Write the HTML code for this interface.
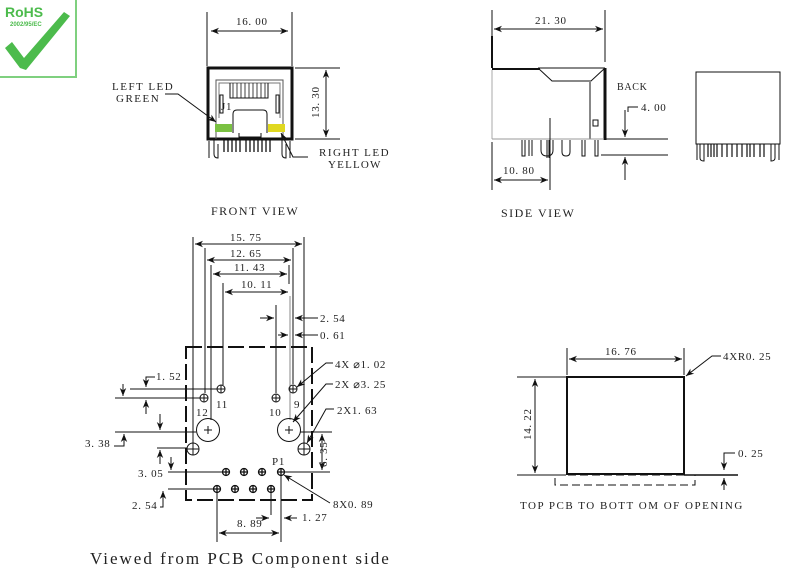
<!DOCTYPE html>
<html><head><meta charset="utf-8"><style>
html,body{margin:0;padding:0;background:#fff;}
svg{display:block;}
text{font-family:"Liberation Serif",serif;font-size:11px;fill:#222;letter-spacing:0.7px;}
</style></head><body>
<svg width="804" height="570" viewBox="0 0 804 570" xmlns="http://www.w3.org/2000/svg">
<defs>
<marker id="a" viewBox="0 0 10 10" refX="10" refY="5" markerWidth="8" markerHeight="8" orient="auto-start-reverse" markerUnits="userSpaceOnUse"><path d="M0,1 L10,5 L0,9 L3,5 Z" fill="#111"/></marker>
</defs>
<!-- RoHS -->
<rect x="0" y="0" width="76" height="77" fill="#fff"/>
<line x1="76" y1="0" x2="76" y2="77" stroke="#7fd07f" stroke-width="2"/>
<line x1="0" y1="77" x2="77" y2="77" stroke="#7fd07f" stroke-width="2"/>
<text x="5" y="17" style="font-family:'Liberation Sans',sans-serif;font-weight:bold;font-size:14px;fill:#4cbb4c;letter-spacing:0">RoHS</text>
<text x="10" y="26" style="font-family:'Liberation Sans',sans-serif;font-weight:bold;font-size:6px;fill:#4cbb4c;letter-spacing:0">2002/95/EC</text>
<polygon points="5,48 12,42 24,58 64,12 70,16 26,70 20,68" fill="#4cbb4c"/>

<g stroke="#111" fill="none" stroke-width="1">
<!-- FRONT VIEW -->
<line x1="207" y1="12" x2="207" y2="66"/><line x1="292" y1="12" x2="292" y2="66"/>
<line x1="211" y1="31" x2="288" y2="31" marker-start="url(#a)" marker-end="url(#a)"/>
<line x1="295" y1="68" x2="340" y2="68"/><line x1="295" y1="139" x2="340" y2="139"/>
<line x1="326" y1="70" x2="326" y2="137" marker-start="url(#a)" marker-end="url(#a)"/>
<rect x="208" y="68" width="84" height="71" stroke-width="3"/>
<path d="M216,139 V80 H283 V139" stroke="#555"/>
<path d="M219,118 V83 H280 V118" stroke="#777"/>
<path d="M230,83 V98 H268 V83" />
<path d="M233,83 V98 M237,83 V98 M241,83 V98 M245,83 V98 M249,83 V98 M253,83 V98 M257,83 V98 M261,83 V98 M265,83 V98" stroke-width="0.8"/>
<rect x="220" y="95" width="3" height="18"/><rect x="276" y="95" width="3" height="18"/>
<path d="M233,133 V114 Q233,110 237,110 H263 Q267,110 267,114 V133 M239,133 V137 H261 V133"/>
<path d="M209,141 V158 M290,141 V158"/>
<path d="M214,140 V154 Q214,158 218,158 V144 M282,140 V154 Q282,158 286,158 V144"/>
<path d="M224,140 V152 M228,140 V152 M232,140 V152 M236,140 V152 M240,140 V152 M246,140 V152 M250,140 V152 M254,140 V152 M258,140 V152 M262,140 V152 M266,140 V152 M270,140 V152" stroke-width="1.3"/>
<polyline points="165,94 178,94 216,122" marker-end="url(#a)"/>
<polyline points="308,157 293,157 281,133" marker-end="url(#a)"/>
</g>
<rect x="215" y="124" width="17" height="8" fill="#7ac142"/>
<rect x="268" y="124" width="17" height="8" fill="#e0d820"/>
<text x="236" y="25">16. 00</text>
<text transform="translate(319,118) rotate(-90)">13. 30</text>
<text x="221" y="110">J1</text>
<text x="112" y="90" style="letter-spacing:1.5px">LEFT  LED</text>
<text x="116" y="102" style="letter-spacing:1.5px">GREEN</text>
<text x="319" y="156" style="letter-spacing:1.5px">RIGHT  LED</text>
<text x="328" y="168" style="letter-spacing:1.2px">YELLOW</text>
<text x="211" y="215" style="font-size:12px;letter-spacing:1.5px">FRONT VIEW</text>

<g stroke="#111" fill="none" stroke-width="1">
<!-- SIDE VIEW -->
<line x1="492" y1="10" x2="492" y2="66"/><line x1="605" y1="10" x2="605" y2="62"/>
<line x1="494" y1="29" x2="603" y2="29" marker-start="url(#a)" marker-end="url(#a)"/>
<line x1="492" y1="36" x2="492" y2="68" stroke-width="2"/>
<line x1="492" y1="69" x2="540" y2="69" stroke-width="2"/>
<path d="M538,68 H605 M538,68 L552,81 H591 L605,68"/>
<line x1="605" y1="68" x2="605" y2="140" stroke-width="3"/>
<line x1="590" y1="82" x2="590" y2="139"/>
<rect x="593" y="120" width="5" height="6"/>
<line x1="492" y1="70" x2="492" y2="139" stroke="#aaa"/>
<line x1="492" y1="139" x2="604" y2="139" stroke="#999"/>
<path d="M522,140 V156 H525 V140 M529,140 V156 M532,140 V156 M541,140 V150 Q541,156 547,156 Q553,156 553,150 V140 M547,140 V158 M549,140 V158 M562,140 V152 Q562,156 566,156 Q570,156 570,152 V140 M582,140 V156 H585 V140 M595,140 V156 H598 V140"/>
<line x1="550" y1="118" x2="550" y2="190"/><line x1="492" y1="142" x2="492" y2="190"/>
<line x1="494" y1="180" x2="548" y2="180" marker-start="url(#a)" marker-end="url(#a)"/>
<line x1="605" y1="139" x2="668" y2="139"/><line x1="601" y1="155" x2="668" y2="155"/>
<line x1="625" y1="110" x2="625" y2="137" marker-end="url(#a)"/>
<line x1="625" y1="180" x2="625" y2="157" marker-end="url(#a)"/>
<polyline points="638,107 628,107 628,112"/>
<!-- back view -->
<rect x="696" y="72" width="84" height="72"/>
<path d="M697,144 V160 M779,144 V160 M700,144 V158 Q700,161 704,161 V144 M775,144 V158 Q775,161 771,161 V144"/>
<path d="M708,144 V157 M711,144 V157 M714,144 V157 M717,144 V157 M722,144 V157 M727,144 V157 M732,144 V157 M737,144 V157 M742,144 V157 M747,144 V157 M750,144 V157 M754,144 V157 M760,144 V157 M764,144 V157" stroke-width="1.2"/>
</g>
<text x="535" y="24">21. 30</text>
<text x="617" y="90" style="font-size:10px">BACK</text>
<text x="641" y="111">4. 00</text>
<text x="503" y="174">10. 80</text>
<text x="501" y="217" style="font-size:12px;letter-spacing:1.5px">SIDE VIEW</text>

<g stroke="#111" fill="none" stroke-width="1">
<!-- PCB VIEW -->
<rect x="186" y="347" width="126" height="153" stroke-width="2" stroke-dasharray="16,5"/>
<line x1="193" y1="237" x2="193" y2="443"/><line x1="304" y1="237" x2="304" y2="443"/>
<line x1="205" y1="248" x2="205" y2="393"/><line x1="293" y1="248" x2="293" y2="384"/>
<line x1="211" y1="265" x2="211" y2="420"/><line x1="289" y1="265" x2="289" y2="284"/>
<line x1="223" y1="283" x2="223" y2="385"/><line x1="290" y1="296" x2="290" y2="420" stroke="#888"/>
<line x1="276" y1="305" x2="276" y2="393"/>
<line x1="195" y1="244" x2="302" y2="244" marker-start="url(#a)" marker-end="url(#a)"/>
<line x1="207" y1="260" x2="291" y2="260" marker-start="url(#a)" marker-end="url(#a)"/>
<line x1="213" y1="274" x2="287" y2="274" marker-start="url(#a)" marker-end="url(#a)"/>
<line x1="225" y1="292" x2="288" y2="292" marker-start="url(#a)" marker-end="url(#a)"/>
<line x1="260" y1="318" x2="274" y2="318" marker-end="url(#a)"/>
<line x1="318" y1="318" x2="295" y2="318" marker-end="url(#a)"/>
<line x1="278" y1="335" x2="288" y2="335" marker-end="url(#a)"/>
<line x1="318" y1="335" x2="295" y2="335" marker-end="url(#a)"/>
<circle cx="221" cy="389" r="4"/><circle cx="204" cy="398" r="4"/>
<circle cx="276" cy="398" r="4"/><circle cx="293" cy="389" r="4"/>
<path d="M217,389 H225 M221,385 V393 M200,398 H208 M204,394 V402 M272,398 H280 M276,394 V402 M289,389 H297 M293,385 V393"/>
<circle cx="208" cy="430" r="11.5"/><circle cx="289" cy="430" r="11.5"/>
<path d="M204,430 H212 M208,426 V434 M285,430 H293 M289,426 V434"/>
<circle cx="193" cy="449" r="6"/><circle cx="304" cy="449" r="6"/>
<path d="M187,449 H199 M193,443 V455 M298,449 H310 M304,443 V455"/>
<g stroke-width="1.3">
<circle cx="226" cy="472" r="3.5"/><circle cx="244" cy="472" r="3.5"/><circle cx="262" cy="472" r="3.5"/><circle cx="281" cy="472" r="3.5"/>
<circle cx="217" cy="489" r="3.5"/><circle cx="235" cy="489" r="3.5"/><circle cx="253" cy="489" r="3.5"/><circle cx="271" cy="489" r="3.5"/>
<path d="M222,472 H230 M226,468 V476 M240,472 H248 M244,468 V476 M258,472 H266 M262,468 V476 M277,472 H285 M281,468 V476 M213,489 H221 M217,485 V493 M231,489 H239 M235,485 V493 M249,489 H257 M253,485 V493 M267,489 H275 M271,485 V493"/>
</g>
<line x1="130" y1="389" x2="217" y2="389"/>
<line x1="115" y1="398" x2="200" y2="398"/>
<line x1="115" y1="432" x2="196" y2="432"/>
<line x1="157" y1="448" x2="187" y2="448"/>
<line x1="168" y1="472" x2="222" y2="472"/>
<line x1="168" y1="489" x2="213" y2="489"/>
<polyline points="155,377 146,377 146,387" marker-end="url(#a)"/>
<line x1="123" y1="384" x2="123" y2="396" marker-end="url(#a)"/>
<line x1="146" y1="414" x2="146" y2="400" marker-end="url(#a)"/>
<line x1="160" y1="414" x2="160" y2="430" marker-end="url(#a)"/>
<polyline points="114,446 124,446 124,434" marker-end="url(#a)"/>
<line x1="160" y1="464" x2="160" y2="450" marker-end="url(#a)"/>
<line x1="171" y1="457" x2="171" y2="470" marker-end="url(#a)"/>
<polyline points="160,507 163,507 163,491" marker-end="url(#a)"/>
<line x1="300" y1="432" x2="332" y2="432"/><line x1="285" y1="472" x2="330" y2="472"/>
<line x1="322" y1="434" x2="322" y2="470" marker-start="url(#a)" marker-end="url(#a)"/>
<polyline points="333,363 326,363 297,387" marker-end="url(#a)"/>
<polyline points="333,384 326,384 293,422" marker-end="url(#a)"/>
<polyline points="334,409 326,409 307,443" marker-end="url(#a)"/>
<line x1="330" y1="503" x2="284" y2="475" marker-end="url(#a)"/>
<line x1="217" y1="493" x2="217" y2="542"/><line x1="281" y1="476" x2="281" y2="542"/>
<line x1="271" y1="493" x2="271" y2="515"/>
<line x1="219" y1="533" x2="279" y2="533" marker-start="url(#a)" marker-end="url(#a)"/>
<line x1="256" y1="518" x2="269" y2="518" marker-end="url(#a)"/>
<line x1="297" y1="518" x2="284" y2="518" marker-end="url(#a)"/>
</g>
<text x="230" y="241">15. 75</text>
<text x="230" y="257">12. 65</text>
<text x="234" y="271">11. 43</text>
<text x="241" y="288">10. 11</text>
<text x="320" y="322">2. 54</text>
<text x="320" y="339">0. 61</text>
<text x="156" y="380">1. 52</text>
<text x="85" y="447">3. 38</text>
<text x="138" y="477">3. 05</text>
<text x="132" y="509">2. 54</text>
<text x="196" y="416">12</text><text x="216" y="408">11</text>
<text x="269" y="416">10</text><text x="294" y="408">9</text>
<text x="272" y="465">P1</text>
<text x="335" y="368">4X ⌀1. 02</text>
<text x="335" y="388">2X ⌀3. 25</text>
<text x="337" y="414">2X1. 63</text>
<text transform="translate(327,467) rotate(-90)">6. 35</text>
<text x="333" y="508">8X0. 89</text>
<text x="237" y="527">8. 89</text>
<text x="302" y="521">1. 27</text>
<text x="90" y="564" style="font-size:17px;letter-spacing:2px">Viewed from PCB Component side</text>

<g stroke="#111" fill="none" stroke-width="1">
<!-- OPENING -->
<rect x="567" y="377" width="117" height="97" stroke-width="2"/>
<line x1="567" y1="348" x2="567" y2="375"/><line x1="684" y1="348" x2="684" y2="375"/>
<line x1="569" y1="359" x2="682" y2="359" marker-start="url(#a)" marker-end="url(#a)"/>
<polyline points="721,356 712,356 686,376" marker-end="url(#a)"/>
<line x1="517" y1="377" x2="566" y2="377"/><line x1="517" y1="475" x2="566" y2="475"/>
<line x1="535" y1="379" x2="535" y2="473" marker-start="url(#a)" marker-end="url(#a)"/>
<path d="M684,475 H555 V485 H695 V475" stroke-dasharray="8,4"/>
<line x1="684" y1="475" x2="738" y2="475" stroke-width="1.5"/>
<polyline points="735,453 724,453 724,470" marker-end="url(#a)"/>
<line x1="724" y1="490" x2="724" y2="478" marker-end="url(#a)"/>
</g>
<text x="605" y="355">16. 76</text>
<text x="723" y="360">4XR0. 25</text>
<text transform="translate(531,440) rotate(-90)">14. 22</text>
<text x="738" y="457">0. 25</text>
<text x="520" y="509" style="letter-spacing:1.5px">TOP  PCB  TO BOTT  OM OF OPENING</text>
</svg>
</body></html>
